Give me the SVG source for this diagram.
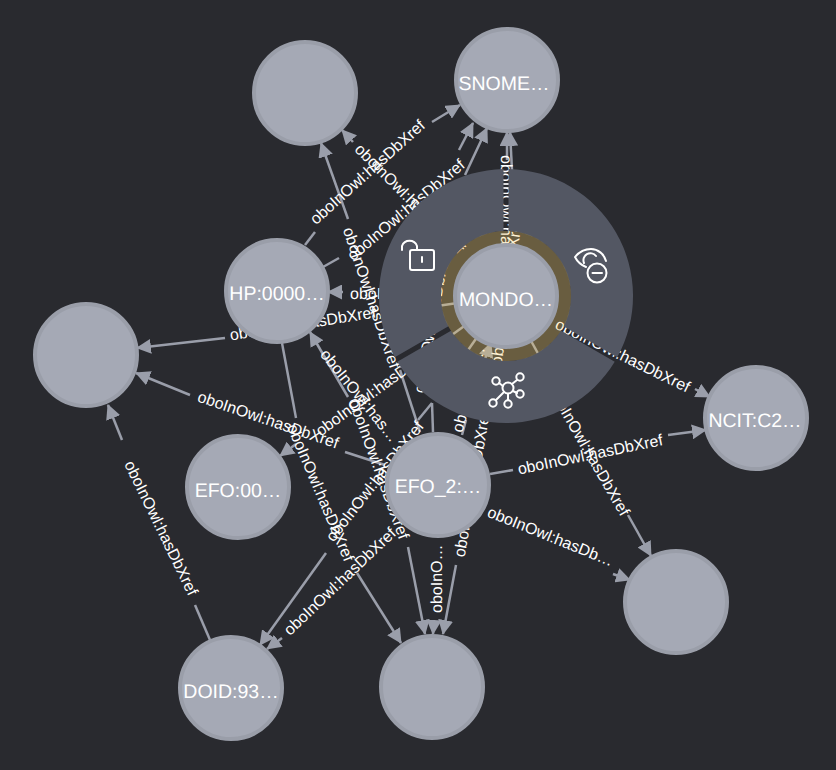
<svg xmlns="http://www.w3.org/2000/svg" width="836" height="770" viewBox="0 0 836 770">
<style>
text{text-rendering:geometricPrecision}
.e{fill:none;stroke:#9a9eaa;stroke-width:2.5}
.a{marker-end:url(#arr)}
.l{font:16px "Liberation Sans",Arial,sans-serif;fill:#fff;dominant-baseline:central}
.n{fill:#a5a9b5;stroke:#9a9ea9;stroke-width:4}
.t{font:19.5px "Liberation Sans",Arial,sans-serif;fill:#fff;text-anchor:middle;dominant-baseline:central}
.m{fill:#535763}
.i{fill:none;stroke:#fff;stroke-width:2;stroke-linecap:round;stroke-linejoin:round}
</style>
<defs>
<marker id="arr" markerUnits="userSpaceOnUse" markerWidth="16" markerHeight="15" refX="14" refY="7.5" orient="auto"><path d="M0 0L15 7.5L0 15Z" fill="#9a9eaa"/></marker>
</defs>
<rect width="836" height="770" fill="#292a2f"/>
<g id="connectors">
<path class="e" d="M305 245L315 232"/><path class="e a" d="M432 122L460 105"/>
<path class="e" d="M323 267L339 258"/><path class="e a" d="M459 150L473 123"/>
<path class="e a" d="M465 175L487 128"/>
<path class="e a" d="M507 160L507 132"/><path class="e a" d="M512 170L510 132"/>
<path class="e a" d="M348 219L321 143"/><path class="e a" d="M353 142L342 130"/>
<path class="e a" d="M343 292L328 292"/><path class="e a" d="M225 338L137 348"/>
<path class="e a" d="M190 395L136 373"/><path class="e" d="M345 452L385 465"/>
<path class="e a" d="M122 440L108 405"/><path class="e" d="M195 605L210 640"/>
<path class="e" d="M282 343L296 418"/><path class="e a" d="M357 573L401 643"/>
<path class="e a" d="M296 444L280 456"/><path class="e a" d="M348 397L310 332"/>
<path class="e a" d="M326 553L260 645"/><path class="e a" d="M282 638L267 649"/>
<path class="e a" d="M408 547L425 634"/><path class="e a" d="M434 620L433 634"/><path class="e a" d="M456 565L443 634"/>
<path class="e" d="M400 370L420 432"/><path class="e" d="M418 420L432 403"/><path class="e" d="M433 432L432 403"/><path class="e" d="M462 435L466 420"/>
<path class="e a" d="M613 574L630 580"/><path class="e a" d="M628 515L651 556"/>
<path class="e a" d="M695 389L710 397"/><path class="e" d="M490 474L513 470"/><path class="e a" d="M668 435L706 430"/>
<path class="e" d="M506 296L437 306"/><path class="e" d="M506 296L449 337"/><path class="e" d="M506 296L466 353"/><path class="e" d="M506 296L540 357"/>
<path class="e a" d="M470 398L491 343"/>
<text class="l" transform="translate(313 222) rotate(-41.8)">oboInOwl:hasDbXref</text>
<text class="l" transform="translate(350 258) rotate(-40)">oboInOwl:hasDbXref</text>
<text class="l" transform="translate(347 228) rotate(71.3)">oboInOwl:hasDbXref</text>
<text class="l" transform="translate(357 147) rotate(45)">oboInOwl:hasDbXref</text>
<text class="l" transform="translate(505 155) rotate(90)">oboInOwl:hasDbXref</text>
<text class="l" transform="translate(350 294)">oboInOwl:…</text>
<text class="l" transform="translate(230 336) rotate(-9)">oboInOwl:hasDbXref</text>
<text class="l" transform="translate(198 397) rotate(18.7)">oboInOwl:hasDbXref</text>
<text class="l" transform="translate(128 462) rotate(64)">oboInOwl:hasDbXref</text>
<text class="l" transform="translate(291 425) rotate(67)">oboInOwl:hasDbXref</text>
<text class="l" transform="translate(318 433) rotate(-36)">oboInOwl:hasDbXref</text>
<text class="l" transform="translate(323 352) rotate(51)">oboInOwl:has…</text>
<text class="l" transform="translate(353 400) rotate(70)">oboInOwl:hasDbXref</text>
<text class="l" transform="translate(330 540) rotate(-52)">oboInOwl:hasDbXref</text>
<text class="l" transform="translate(287 633) rotate(-43.6)">oboInOwl:hasDbXref</text>
<text class="l" transform="translate(437 613) rotate(-90)">oboInO…</text>
<text class="l" transform="translate(460 557) rotate(-80)">oboInOwl:hasDbXref</text>
<text class="l" transform="translate(458 432) rotate(-75)">oboInOwl:…</text>
<text class="l" transform="translate(497 365) rotate(-82)">oboInOwl:hasDbXref</text>
<text class="l" transform="translate(420 393) rotate(-80)">oboInOwl:hasDbXref</text>
<text class="l" transform="translate(551 387) rotate(60)">oboInOwl:hasDbXref</text>
<text class="l" transform="translate(556 324) rotate(26)">oboInOwl:hasDbXref</text>
<text class="l" transform="translate(518 470) rotate(-11.5)">oboInOwl:hasDbXref</text>
<text class="l" transform="translate(488 512) rotate(22)">oboInOwl:hasDb…</text>
</g>
<g id="menu">
<path class="m" d="M508.5 169.02A127 127 0 0 1 617.22 357.33L563.5 326.31A65 65 0 0 0 508.5 231.05Z"/>
<path class="m" d="M614.72 361.66A127 127 0 0 1 397.28 361.66L451 330.64A65 65 0 0 0 561 330.64Z"/>
<path class="m" d="M394.78 357.33A127 127 0 0 1 503.5 169.02L503.5 231.05A65 65 0 0 0 448.5 326.31Z"/>
<circle cx="506" cy="296" r="58.5" fill="none" stroke="#ffd56a" stroke-opacity=".3" stroke-width="13"/>
<g class="i"><rect x="410" y="250" width="24" height="20" rx="2"/><path d="M402 250V246A8 8 0 0 1 417 246V249M422 257V262"/></g>
<g class="i"><path d="M586 267C581 265 577 261 575 257C579 252 585 249 591 249C598 249 604 254 606 261"/><path d="M596 256A7 7 0 0 0 584 263"/><circle cx="597" cy="273" r="9.5"/><path d="M592.5 273H602"/></g>
<g class="i"><circle cx="508" cy="388" r="5.5"/><circle cx="496" cy="381" r="3.7"/><circle cx="520" cy="377" r="3.7"/><circle cx="520" cy="394" r="3.7"/><circle cx="508" cy="404" r="3.7"/><circle cx="493" cy="403" r="3.7"/><path d="M499 383L503 386M517 380L512 384M517 393L513 391M508 394V400M496 400L504 392"/></g>
</g>
<g id="n1"><circle class="n" cx="305" cy="93" r="51"/></g>
<g id="n2"><circle class="n" cx="507" cy="80" r="51"/><text class="t" x="504" y="84">SNOME…</text></g>
<g id="n3"><circle class="n" cx="277" cy="291" r="51"/><text class="t" x="277" y="294">HP:0000…</text></g>
<g id="n4"><circle class="n" cx="86" cy="355" r="51"/></g>
<g id="n5"><circle class="n" cx="506" cy="296" r="51"/><text class="t" x="506" y="300">MONDO…</text></g>
<g id="n6"><circle class="n" cx="438" cy="485" r="51"/><text class="t" x="438" y="487">EFO_2:…</text></g>
<g id="n7"><circle class="n" cx="756" cy="418" r="51"/><text class="t" x="755" y="421">NCIT:C2…</text></g>
<g id="n8"><circle class="n" cx="238" cy="487" r="51"/><text class="t" x="238" y="491">EFO:00…</text></g>
<g id="n9"><circle class="n" cx="676" cy="602" r="51"/></g>
<g id="n10"><circle class="n" cx="231" cy="688" r="51"/><text class="t" x="231" y="692">DOID:93…</text></g>
<g id="n11"><circle class="n" cx="432" cy="687" r="51"/></g>
</svg>
